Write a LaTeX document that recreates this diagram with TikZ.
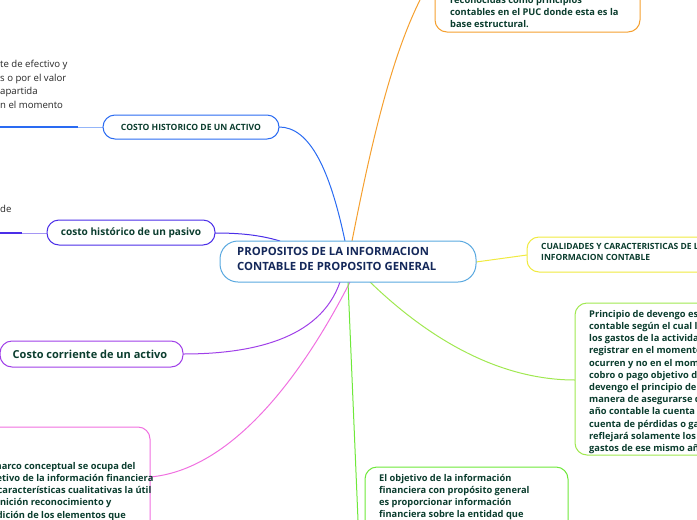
\documentclass[tikz,border=0pt]{standalone}
\usepackage{fontspec}
\setmainfont{Open Sans}
\begin{document}
\begin{tikzpicture}[x=1pt,y=-1pt,
  box/.style={draw=#1,rounded corners=12pt,line width=1pt,fill=white},
  btxt/.style={font=\bfseries\fontsize{9.3}{12.2}\selectfont,text=tg,align=left,anchor=north west,inner sep=0pt},
  ptxt/.style={font=\fontsize{9.6}{10}\selectfont,text=black!85,anchor=base west,inner sep=0pt},
  con/.style={line width=1pt}]
\definecolor{tg}{HTML}{0B3D2E}
\definecolor{navy}{HTML}{14285A}
\definecolor{cblue}{HTML}{5AA9E0}
\definecolor{cb1}{HTML}{2A6BF2}
\definecolor{cb2}{HTML}{4B2EE8}
\definecolor{cpur}{HTML}{A040E8}
\definecolor{cpink}{HTML}{F070E0}
\definecolor{cgr}{HTML}{6EE83A}
\definecolor{clg}{HTML}{A0E850}
\definecolor{cyel}{HTML}{F0EA40}
\definecolor{corg}{HTML}{F5A030}
\useasboundingbox (0,0) rectangle (697,520);
\clip (0,0) rectangle (697,520);
% connectors
\draw[con,cb1] (345,241) .. controls (330,170) and (310,127) .. (279,127);
\draw[con,cb2] (280,241) .. controls (260,235) and (240,233) .. (215,233);
\draw[con,cpur] (340,282) .. controls (320,340) and (250,354) .. (183,354);
\draw[con,cpink] (350,282) .. controls (300,380) and (230,470) .. (150,477);
\draw[con,cgr] (348,282) -- (358,520);
\draw[con,clg] (370,282) .. controls (430,340) and (500,380) .. (575,380);
\draw[con,cyel] (476,262) -- (527,255);
\draw[con,corg] (352,241) .. controls (370,150) and (390,60) .. (420,0);
\draw[line width=1.2pt,cb1] (0,127) -- (78,127);
\draw[line width=0.6pt,cb1!50] (78,127) -- (103,127);
\draw[line width=1.2pt,cb2] (0,233) -- (22,233);
\draw[line width=0.6pt,cb2!50] (22,233) -- (47,233);
% center
\draw[box=cblue,rounded corners=18pt] (220,241) rectangle (476,282);
\node[btxt,text=navy,font=\bfseries\fontsize{11.3}{15}\selectfont] (c) at (237,247) {PROPOSITOS DE LA INFORMACION\\CONTABLE DE PROPOSITO GENERAL};
% branches
\draw[box=cb1] (103,115) rectangle (279,139);
\node[btxt,font=\bfseries\fontsize{8.6}{9}\selectfont,anchor=center] (a) at (191,127.5) {COSTO HISTORICO DE UN ACTIVO};
\draw[box=cb2] (47,220) rectangle (215,245);
\node[btxt,font=\bfseries\fontsize{10.1}{10}\selectfont,anchor=center] (p) at (131,232.5) {costo histórico de un pasivo};
\draw[box=cpur] (0,341) rectangle (183,367);
\node[btxt,font=\bfseries\fontsize{11}{10}\selectfont,anchor=center] (cc) at (90,354) {Costo corriente de un activo};
\draw[box=cyel] (527,237) rectangle (720,272);
\node[btxt,font=\bfseries\fontsize{8.5}{11.5}\selectfont] (q) at (541,243) {CUALIDADES Y CARACTERISTICAS DE LA\\INFORMACION CONTABLE};
\draw[box=corg] (435,-40) rectangle (640,32);
\node[btxt,anchor=south west] (o) at (450,28) {reconocidas como principios\\contables en el PUC donde esta es la\\base estructural.};
\draw[box=clg] (575,303) rectangle (740,455);
\node[btxt] (d) at (589,310) {Principio de devengo es un principio\\contable según el cual los ingresos y\\los gastos de la actividad se deben\\registrar en el momento en que\\ocurren y no en el momento del\\cobro o pago objetivo del principio de\\devengo el principio de devengo es una\\manera de asegurarse de que en cada\\año contable la cuenta de resultados o\\cuenta de pérdidas o ganancias\\reflejará solamente los ingresos y\\gastos de ese mismo año.};
\draw[box=cgr] (365,467) rectangle (568,560);
\node[btxt] (e) at (379,474) {El objetivo de la información\\financiera con propósito general\\es proporcionar información\\financiera sobre la entidad que};
\draw[box=cpink] (-40,427) rectangle (150,560);
\node[btxt] (m) at (-18,462) {El marco conceptual se ocupa del\\objetivo de la información financiera\\las características cualitativas la útil\\definición reconocimiento y\\medición de los elementos que\\constituyen los Estados financieros\\los conceptos de capital y de};
% plain texts
\node[ptxt] (t1) at (0,67.5) {te de efectivo y};
\node[ptxt] (t2) at (0,81) {s o por el valor};
\node[ptxt] (t3) at (0,94.5) {apartida};
\node[ptxt] (t4) at (0,108) {n el momento};
\node[ptxt] (t5) at (0,212) {de};
\end{tikzpicture}
\end{document}
